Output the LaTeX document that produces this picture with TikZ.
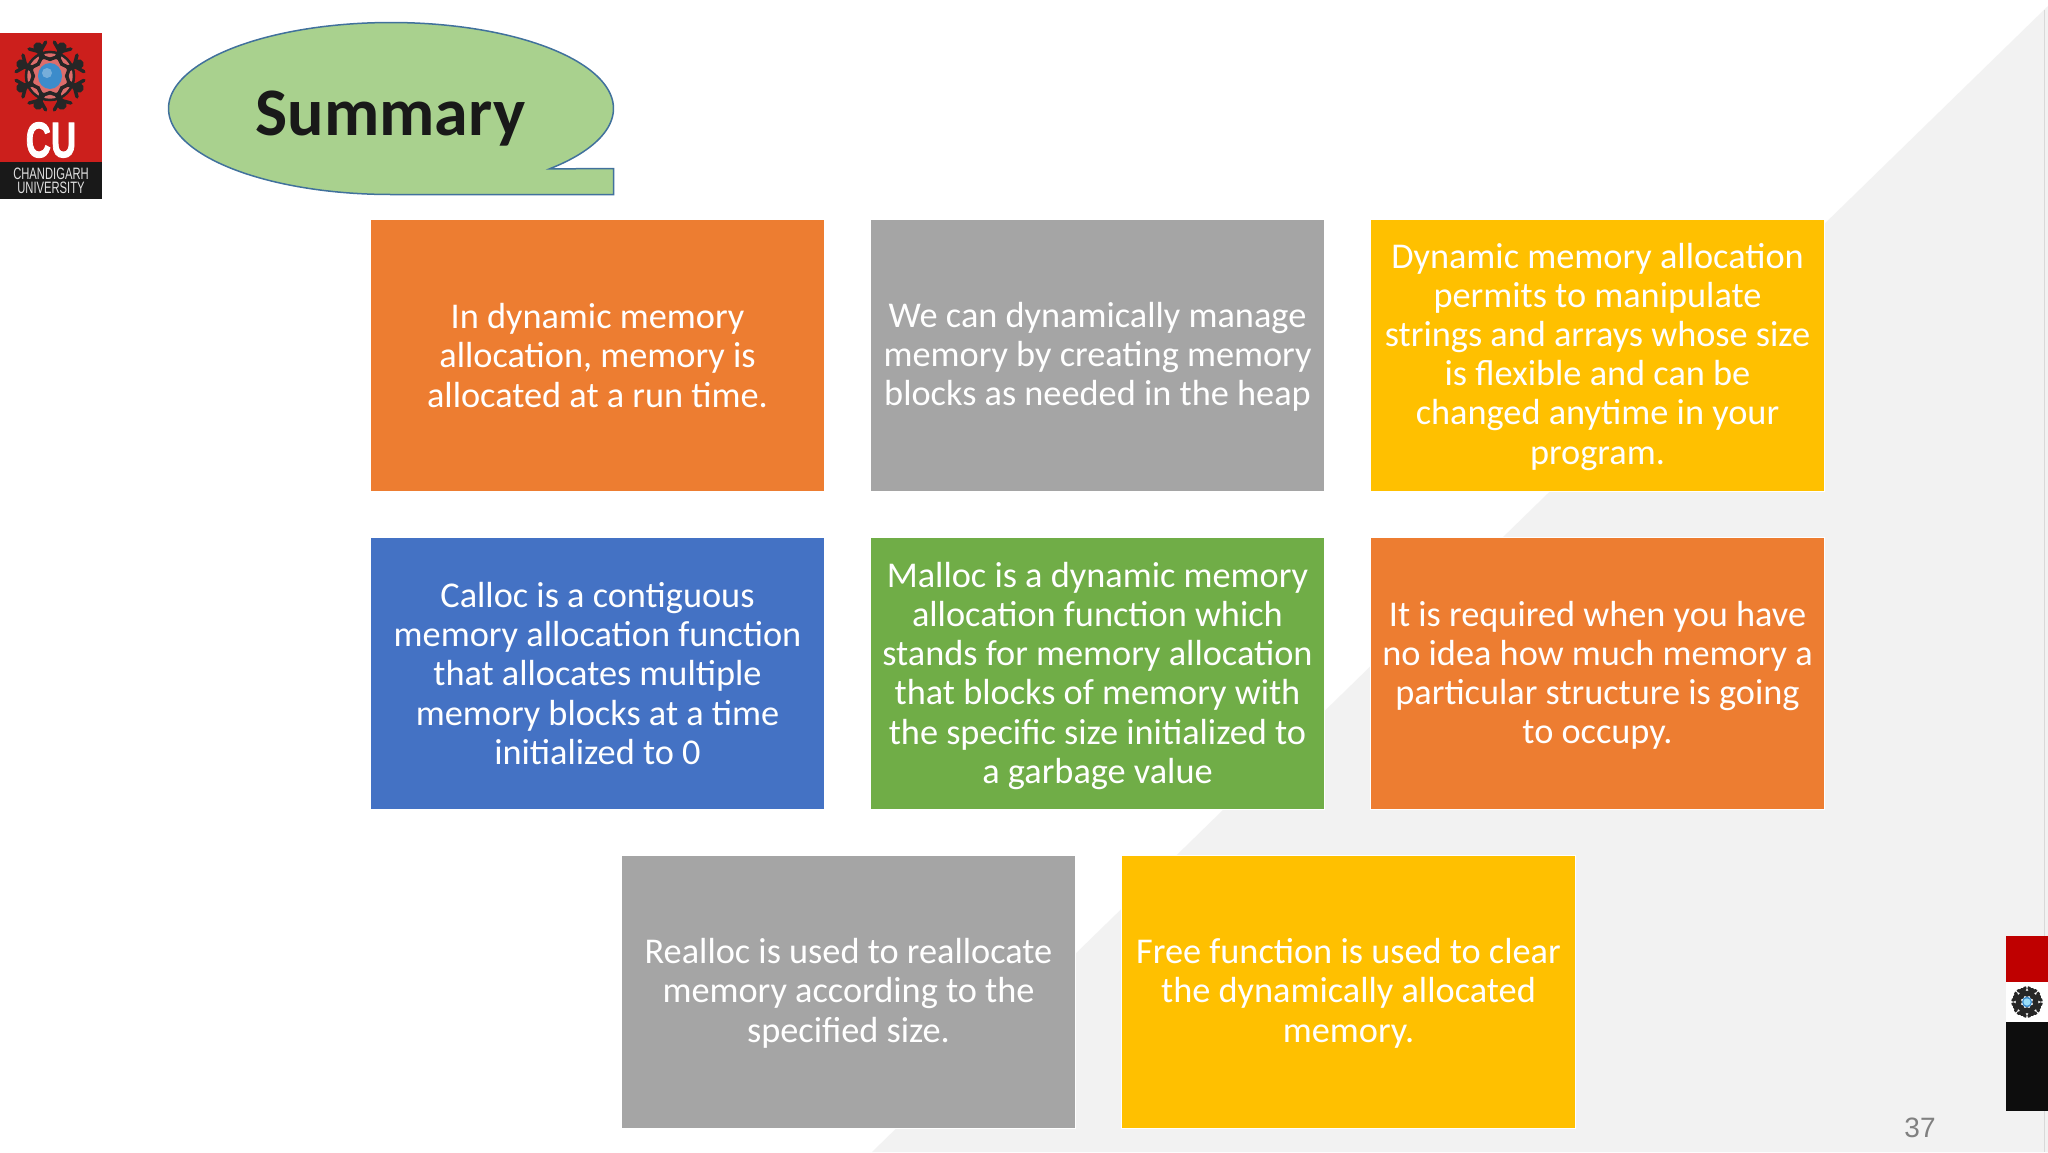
\documentclass[tikz,border=0pt]{standalone}
\usepackage{fontspec}
\setmainfont{Carlito}
\newfontfamily\arialfont{Liberation Sans}
\newfontfamily\cuheavy[FakeBold=2]{Liberation Sans Bold}
\definecolor{cuorange}{HTML}{ED7D31}
\definecolor{cugray}{HTML}{A5A5A5}
\definecolor{cugold}{HTML}{FFC000}
\definecolor{cublue}{HTML}{4472C4}
\definecolor{cugreen}{HTML}{70AD47}
\definecolor{bubblefill}{HTML}{A9D18E}
\definecolor{bubbleline}{HTML}{41719C}
\definecolor{pagegray}{HTML}{F2F2F2}
\definecolor{logored}{HTML}{CC1F1C}
\definecolor{globeblue}{HTML}{3C8CCB}
\tikzset{
  x=1pt,y=-1pt,
  card/.style={draw=white,line width=1.2pt,minimum width=454.5pt,minimum height=272.5pt,
    inner sep=0pt,text=white,font=\fontsize{36.3}{39.2}\selectfont,align=flush center,text width=445pt},
  ringlogo/.pic={
    \foreach \a in {22.5,67.5,...,337.5}{
      \begin{scope}[rotate=\a]
        \fill[black!85] (31,0) circle (5);
        \draw[black!85,line width=6pt] (18,0) -- (28,0);
        \draw[black!85,line width=3.4pt,line cap=round] (33,-9) -- (26,0) -- (33,9);
        \draw[black!85,line width=3.4pt,line cap=round] (15,-7) -- (21,0) -- (15,7);
      \end{scope}
    }
    \draw[black!85,line width=2.5pt] (0,0) circle (24);
    \fill[globeblue] (0,0) ellipse (12 and 13);
    \fill[white,opacity=.3] (-3,-3) circle (5);
  }
}
\begin{document}
\begin{tikzpicture}
\useasboundingbox (0,0) rectangle (2048,1152);
\fill[white] (0,0) rectangle (2048,1152);
\fill[pagegray] (2048,6) -- (2048,1152) -- (872,1152) -- cycle;
\draw[black!15,line width=.8pt] (2044,10) -- (2044,1152);
% logo
\fill[logored] (0,33) rectangle (102,162);
\fill[white,opacity=.35] (50,76) circle (24);
\pic at (50,76) {ringlogo};
\node[font=\cuheavy\fontsize{50}{50}\selectfont,text=white,inner sep=0pt,xscale=.7] (culogo) at (51,140) {CU};
\fill[black!90] (0,162) rectangle (102,199);
\node[font=\arialfont\fontsize{16.5}{16.5}\selectfont,text=white!88!black,inner sep=0pt,xscale=.68] (cuname) at (51,173.5) {CHANDIGARH};
\node[font=\arialfont\fontsize{16.5}{16.5}\selectfont,text=white!88!black,inner sep=0pt,xscale=.68] (cuuni) at (51,188) {UNIVERSITY};
% bubble
\filldraw[fill=bubblefill,draw=bubbleline,line width=1.5pt]
  (392,194.5) -- plot[domain=90:404.5,samples=90,smooth] ({391+222.5*cos(\x)},{108.5+86*sin(\x)})
  -- (613.5,168.7) -- (613.5,194.5) -- cycle;
\node[font=\bfseries\fontsize{68}{68}\selectfont,text=black!90,inner sep=0pt] (title) at (390.5,119) {Summary};
% cards
\node[card,fill=cuorange] (c1) at (597.5,355.5) {In dynamic memory\\allocation, memory is\\allocated at a run time.};
\node[card,fill=cugray] (c2) at (1097.5,355.5) {\strut We can dynamically manage\\memory by creating memory\\blocks as needed in the heap};
\node[card,fill=cugold] (c3) at (1597.5,355.5) {\strut Dynamic memory allocation\\permits to manipulate\\strings and arrays whose size\\is flexible and can be\\changed anytime in your\\program.};
\node[card,fill=cublue] (c4) at (597.5,673.5) {Calloc is a contiguous\\memory allocation function\\that allocates multiple\\memory blocks at a time\\initialized to 0};
\node[card,fill=cugreen] (c5) at (1097.5,673.5) {\rule{0pt}{30pt}Malloc is a dynamic memory\\allocation function which\\stands for memory allocation\\that blocks of memory with\\the specific size initialized to\\a garbage value};
\node[card,fill=cuorange] (c6) at (1597.5,673.5) {\rule{0pt}{29pt}It is required when you have\\no idea how much memory a\\particular structure is going\\to occupy.};
\node[card,fill=cugray] (c7) at (848.5,992) {\strut Realloc is used to reallocate\\memory according to the\\specified size.};
\node[card,fill=cugold] (c8) at (1348.5,992) {\strut Free function is used to clear\\the dynamically allocated\\memory.};
% side strip
\fill[red!75!black] (2006,936) rectangle (2048,982);
\fill[white] (2006,982) rectangle (2048,1022);
\fill[black!95] (2006,1022) rectangle (2048,1111);
\pic[scale=.42] at (2027,1002) {ringlogo};
\fill[cyan!40!white] (2027,1002) circle (3.6);
\node[font=\arialfont\fontsize{28}{28}\selectfont,text=black!50,inner sep=0pt] (pageno) at (1920,1128) {37};
\end{tikzpicture}
\end{document}
